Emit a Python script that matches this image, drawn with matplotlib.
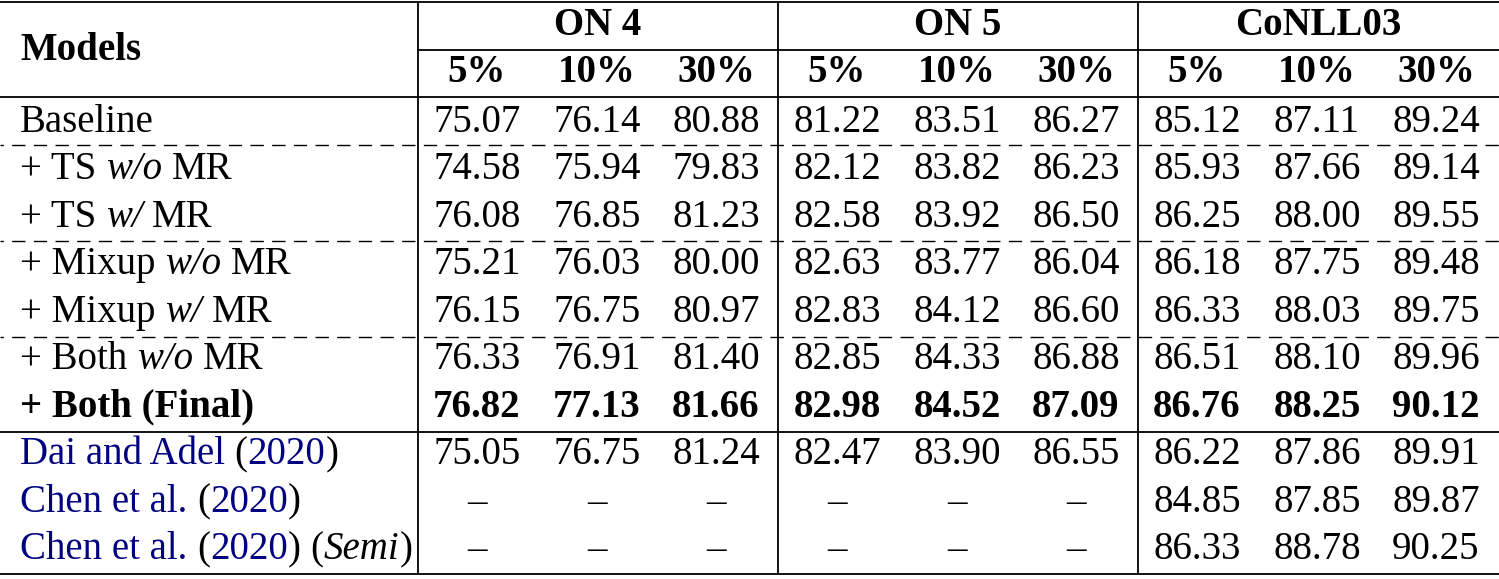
import numpy as np
import matplotlib
matplotlib.use("Agg")
import matplotlib.pyplot as plt

plt.rcParams["font.family"] = ["Liberation Serif", "DejaVu Serif"]

datasets = ["ON 4", "ON 5", "CoNLL03"]
ratios = ["5%", "10%", "30%"]

# rows: Baseline, TS w/o, TS w/, Mixup w/o, Mixup w/, Both w/o, Final, Dai, Chen, Chen semi
on4 = [
    [75.07, 76.14, 80.88],
    [74.58, 75.94, 79.83],
    [76.08, 76.85, 81.23],
    [75.21, 76.03, 80.00],
    [76.15, 76.75, 80.97],
    [76.33, 76.91, 81.40],
    [76.82, 77.13, 81.66],
    [75.05, 76.75, 81.24],
    [None, None, None],
    [None, None, None],
]
on5 = [
    [81.22, 83.51, 86.27],
    [82.12, 83.82, 86.23],
    [82.58, 83.92, 86.50],
    [82.63, 83.77, 86.04],
    [82.83, 84.12, 86.60],
    [82.85, 84.33, 86.88],
    [82.98, 84.52, 87.09],
    [82.47, 83.90, 86.55],
    [None, None, None],
    [None, None, None],
]
conll03 = [
    [85.12, 87.11, 89.24],
    [85.93, 87.66, 89.14],
    [86.25, 88.00, 89.55],
    [86.18, 87.75, 89.48],
    [86.33, 88.03, 89.75],
    [86.51, 88.10, 89.96],
    [86.76, 88.25, 90.12],
    [86.22, 87.86, 89.91],
    [84.85, 87.85, 89.87],
    [86.33, 88.78, 90.25],
]

K = "black"
B = "#000080"
# (text, style, colour, space before)
row_labels = [
    [("Baseline", "n", K, False)],
    [("+ TS", "n", K, False), ("w/o", "i", K, True), ("MR", "n", K, True)],
    [("+ TS", "n", K, False), ("w/", "i", K, True), ("MR", "n", K, True)],
    [("+ Mixup", "n", K, False), ("w/o", "i", K, True), ("MR", "n", K, True)],
    [("+ Mixup", "n", K, False), ("w/", "i", K, True), ("MR", "n", K, True)],
    [("+ Both", "n", K, False), ("w/o", "i", K, True), ("MR", "n", K, True)],
    [("+ Both (Final)", "b", K, False)],
    [("Dai and Adel", "n", B, False), ("(", "n", K, True), ("2020", "n", B, False), (")", "n", K, False)],
    [("Chen et al.", "n", B, False), ("(", "n", K, True), ("2020", "n", B, False), (")", "n", K, False)],
    [("Chen et al.", "n", B, False), ("(", "n", K, True), ("2020", "n", B, False), (")", "n", K, False),
     ("(", "n", K, True), ("Semi", "i", K, False), (")", "n", K, False)],
]
bold_row = 6

FS = 28
W, H = 1499, 579
fig = plt.figure(figsize=(W / 100, H / 100), dpi=100)
ax = fig.add_axes([0, 0, 1, 1])
ax.set_xlim(0, W)
ax.set_ylim(H, 0)
ax.axis("off")
renderer = fig.canvas.get_renderer()

# layout
vlines = [418, 778, 1138]
row_y = np.linspace(118, 545, 10)
base_off = 14
col_x = []
for g in vlines:
    col_x += [g + 59, g + 179, g + 298]

# rules
solid = dict(color="black", lw=1.3, solid_capstyle="butt")
dashed = dict(color="black", lw=1.0, linestyle=(7.2, (9.6, 6.0)), dash_capstyle="butt")
ax.plot([0, W], [2, 2], **solid)
ax.plot([vlines[0], W], [50, 50], **solid)
ax.plot([0, W], [97, 97], **solid)
for yy in [145, 241, 337]:
    ax.plot([0, W], [yy, yy], **dashed)
ax.plot([0, W], [432, 432], **solid)
ax.plot([0, W], [574, 574], **solid)
for xx in vlines:
    ax.plot([xx, xx], [2, 574], **solid)

# header
ax.text(20, 60, "Models", fontsize=FS, fontweight="bold", va="baseline", ha="left")
for i, name in enumerate(datasets):
    ax.text(vlines[i] + 180, 35, name, fontsize=FS, fontweight="bold", va="baseline", ha="center")
    for j, r in enumerate(ratios):
        ax.text(col_x[i * 3 + j], 82, r, fontsize=FS, fontweight="bold", va="baseline", ha="center")


def width_of(s, **kw):
    t = ax.text(0, 0, s, fontsize=FS, **kw)
    w = t.get_window_extent(renderer).width
    t.remove()
    return w


space_w = width_of("a a") - width_of("aa")

# row labels
for r, segs in enumerate(row_labels):
    x = 20
    y = row_y[r] + base_off
    for txt, st, col, sp in segs:
        if sp:
            x += space_w
        kw = {}
        if st == "i":
            kw["fontstyle"] = "italic"
        if st == "b":
            kw["fontweight"] = "bold"
        t = ax.text(x, y, txt, fontsize=FS, color=col, va="baseline", ha="left", **kw)
        x += t.get_window_extent(renderer).width

# values
for r in range(len(row_labels)):
    vals = on4[r] + on5[r] + conll03[r]
    for c, v in enumerate(vals):
        s = "–" if v is None else f"{v:.2f}"
        ax.text(col_x[c], row_y[r] + base_off, s, fontsize=FS, va="baseline", ha="center",
                fontweight="bold" if r == bold_row else "normal")

fig.savefig("out.png", dpi=100)
